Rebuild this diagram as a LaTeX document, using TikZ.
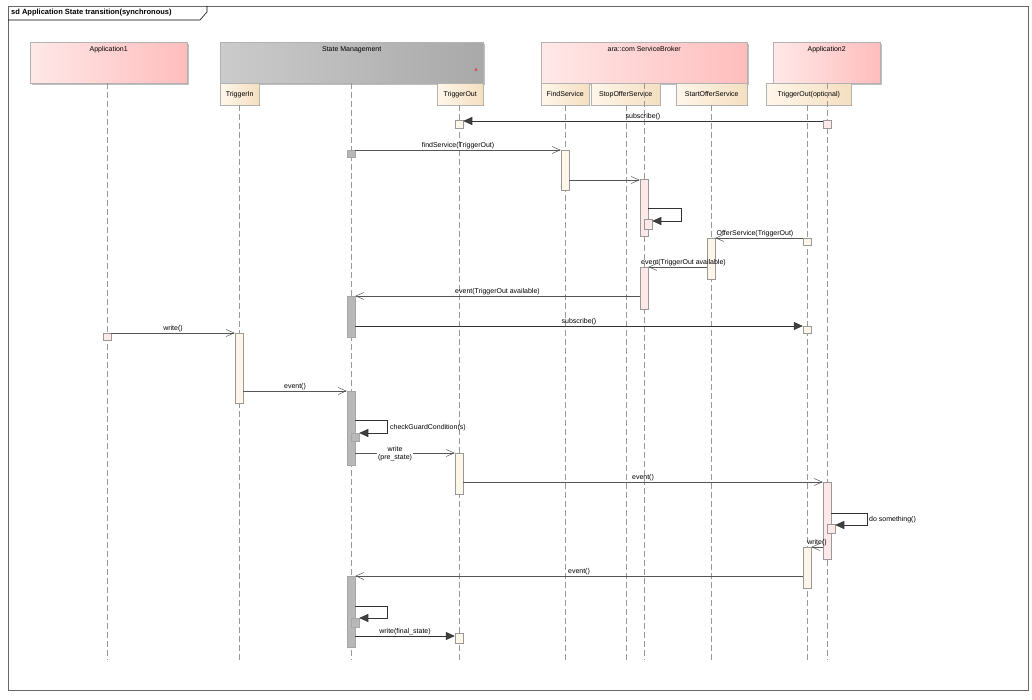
\documentclass[tikz,border=0pt]{standalone}
\usepackage{fontspec}
\setmainfont{Liberation Sans}
\usetikzlibrary{arrows.meta,calc}
\definecolor{pinkL}{HTML}{FFE8E8}\definecolor{pinkR}{HTML}{FFBDBD}
\definecolor{grayL}{HTML}{CBCBCB}\definecolor{grayR}{HTML}{A9A9A9}
\definecolor{crL}{HTML}{FFF6EA}\definecolor{crR}{HTML}{F5DFC0}
\definecolor{lnc}{HTML}{555555}
\tikzset{
 lbl/.style={font=\fontsize{7}{8}\selectfont, inner sep=1pt},
 head/.style={draw=black!30, left color=pinkL, right color=pinkR, inner sep=0, anchor=north west},
 port/.style={draw=black!30, left color=crL, right color=crR, inner sep=1pt, font=\fontsize{7}{8}\selectfont, anchor=north west, minimum height=22pt, text depth=0pt},
 life/.style={draw=black!40, dash pattern=on 6pt off 3pt, line width=0.5pt},
 acr/.style={draw=black!40, fill=crL, line width=0.5pt},
 apk/.style={draw=black!40, fill=pinkL, line width=0.5pt},
 agr/.style={draw=black!35, fill=black!28, line width=0.5pt},
 msgo/.style={draw=lnc, line width=0.6pt, -{Straight Barb[length=8pt,width=7pt,line width=0.5pt]}},
 msgf/.style={draw=black!80, line width=0.6pt, -{Triangle[length=9pt,width=8pt,fill=black!75]}},
}
\newcommand\actv[5]{\node[#5, minimum width=8pt, minimum height={(#4)-(#3)}, inner sep=0, anchor=north] (#1) at (#2,#3) {};}
\begin{document}
\begin{tikzpicture}[x=1pt,y=-1pt]
\useasboundingbox (0,0) rectangle (1032,700);
% frame
\draw[black!60, line width=0.7pt] (8,6) rectangle (1028,690);
\draw[black, line width=0.6pt] (8,20) -- (200,20) -- (207,12) -- (207,6);
\node[lbl, anchor=west, font=\fontsize{7.5}{8}\selectfont\bfseries] (title) at (10,13) {sd Application State transition(synchronous)};
% heads with shadow
\fill[black!25] (32,44) rectangle (189,85);
\node[head, minimum width=157pt, minimum height=41pt] (app1) at (30,42) {};
\node[lbl, anchor=north] at (app1.north) [yshift=-3pt] {Application1};
\fill[black!25] (222,44) rectangle (485,85);
\node[draw=black!30, left color=grayL, right color=grayR, inner sep=0, anchor=north west, minimum width=263pt, minimum height=41pt] (sm) at (220,42) {};
\node[lbl, anchor=north] at (sm.north) [yshift=-3pt] {State Management};
\node[text=red, font=\fontsize{5}{5}\selectfont, inner sep=0] (amark) at (476,70) {a};
\fill[black!25] (543,44) rectangle (749,85);
\node[head, minimum width=206pt, minimum height=41pt] (sb) at (541,42) {};
\node[lbl, anchor=north] at (sb.north) [yshift=-3pt] {ara::com ServiceBroker};
\fill[black!25] (775,44) rectangle (882,85);
\node[head, minimum width=107pt, minimum height=41pt] (app2) at (773,42) {};
\node[lbl, anchor=north] at (app2.north) [yshift=-3pt] {Application2};
% ports
\node[port, minimum width=39pt] (tin) at (220,83) {TriggerIn};
\node[port, minimum width=46pt] (tout) at (437,83) {TriggerOut};
\node[port, minimum width=48pt] (fs) at (541,83) {FindService};
\node[port, minimum width=69pt] (sos) at (591,83) {StopOfferService};
\node[port, minimum width=71pt] (stos) at (676,83) {StartOfferService};
\node[port, minimum width=85pt] (topt) at (766,83) {TriggerOut(optional)};
% lifelines
\draw[life] (107,83) -- (107,660);
\draw[life] (239,105) -- (239,660);
\draw[life] (351,83) -- (351,660);
\draw[life] (459,105) -- (459,660);
\draw[life] (565,105) -- (565,660);
\draw[life] (626,105) -- (626,660);
\draw[life] (644,83) -- (644,660);
\draw[life] (711,105) -- (711,660);
\draw[life] (807,105) -- (807,660);
\draw[life] (827,83) -- (827,660);
% activations
\actv{a1}{827}{120}{128}{apk}
\actv{a2}{459}{120}{128}{acr}
\actv{a3}{351}{150}{157}{agr}
\actv{a4}{565}{150}{190}{acr}
\actv{a5}{644}{179}{236}{apk}
\actv{a5s}{648}{219}{229}{apk}
\actv{a6}{807}{238}{245}{acr}
\actv{a7}{711}{238}{279}{acr}
\actv{a8}{644}{267}{309}{apk}
\actv{a9}{351}{296}{337}{agr}
\actv{a10}{807}{326}{333}{acr}
\actv{a11}{107}{333}{340}{apk}
\actv{a12}{239}{333}{403}{acr}
\actv{a13}{351}{391}{465}{agr}
\actv{a13s}{355}{433}{441}{agr}
\actv{a14}{459}{453}{494}{acr}
\actv{a15}{827}{482}{559}{apk}
\actv{a15s}{831}{524}{533}{apk}
\actv{a16}{807}{547}{588}{acr}
\actv{a17}{351}{576}{647}{agr}
\actv{a17s}{355}{618}{627}{agr}
\actv{a18}{459}{633}{643}{acr}
% messages
\draw[msgf] (a1.west |- 0,121) -- (a2.east |- 0,121) node[lbl, midway, above] {subscribe()};
\draw[msgo] (a3.east |- 0,150) -- (a4.west |- 0,150) node[lbl, midway, above] {findService(TriggerOut)};
\draw[msgo] (a4.east |- 0,180) -- (a5.west |- 0,180);
\draw[msgf] (a5.east |- 0,208) -- (681,208) -- (681,221) -- (a5s.east |- 0,221);
\draw[msgo] (a6.west |- 0,238) -- (a7.east |- 0,238) node[lbl, midway, above, xshift=-4pt] {OfferService(TriggerOut)};
\draw[msgo] (a7.west |- 0,267) -- (a8.east |- 0,267) node[lbl, midway, above, xshift=6pt] {event(TriggerOut available)};
\draw[msgo] (a8.west |- 0,296) -- (a9.east |- 0,296) node[lbl, midway, above] {event(TriggerOut available)};
\draw[msgf] (a9.east |- 0,326) -- (a10.west |- 0,326) node[lbl, midway, above] {subscribe()};
\draw[msgo] (a11.east |- 0,333) -- (a12.west |- 0,333) node[lbl, midway, above] {write()};
\draw[msgo] (a12.east |- 0,391) -- (a13.west |- 0,391) node[lbl, midway, above] {event()};
\draw[msgf] (a13.east |- 0,420) -- (387,420) -- (387,433) -- (a13s.east |- 0,433);
\node[lbl, anchor=west] (cgc) at (389,428) {checkGuardCondition(s)};
\draw[msgo] (a13.east |- 0,453) -- (a14.west |- 0,453) node[lbl, pos=0.4, fill=white, align=center, yshift=-1pt, font=\fontsize{7}{8}\selectfont] {write\\(pre\_state)};
\draw[msgo] (a14.east |- 0,482) -- (a15.west |- 0,482) node[lbl, midway, above] {event()};
\draw[msgf] (a15.east |- 0,513) -- (867,513) -- (867,525) -- (a15s.east |- 0,525);
\node[lbl, anchor=west] (dos) at (868,520) {do something()};
\draw[msgo] (a15.west |- 0,547) -- (a16.east |- 0,547) node[lbl, midway, above] {write()};
\draw[msgo] (a16.west |- 0,576) -- (a17.east |- 0,576) node[lbl, midway, above] {event()};
\draw[msgf] (a17.east |- 0,606) -- (387,606) -- (387,618) -- (a17s.east |- 0,618);
\draw[msgf] (a17.east |- 0,636) -- (a18.west |- 0,636) node[lbl, midway, above] {write(final\_state)};
\end{tikzpicture}
\end{document}
